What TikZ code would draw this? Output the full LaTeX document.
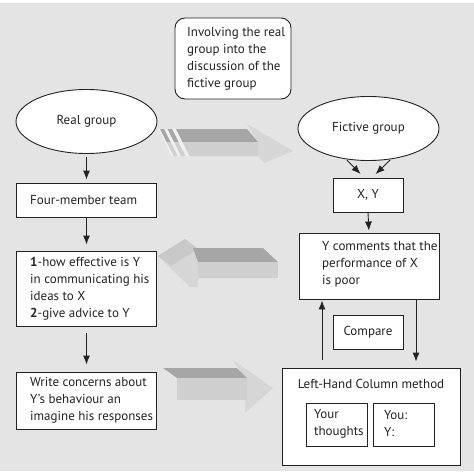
\documentclass[tikz,border=0pt]{standalone}
\usepackage{fontspec}
\setmainfont{PT Sans}
\usetikzlibrary{shapes.geometric,arrows.meta}
\definecolor{bgc}{HTML}{E4E4E4}
\definecolor{topc}{HTML}{A6A6A6}
\definecolor{frontc}{HTML}{CFCFCF}
\definecolor{headc}{HTML}{D6D6D6}
\definecolor{facetc}{HTML}{C8C8C8}
\definecolor{gapc}{HTML}{F0F0F0}
\definecolor{ink}{HTML}{222222}
\begin{document}
\begin{tikzpicture}[x=1pt,y=-1pt,
  every node/.style={font=\fontsize{13}{17}\selectfont, text=ink},
  bx/.style={draw=ink, line width=0.9pt, fill=white, inner sep=0pt},
  ell/.style={draw=ink, line width=0.9pt, fill=white, ellipse, minimum width=141pt, minimum height=64pt, inner sep=0pt},
  arr/.style={draw=ink, line width=0.9pt, -{Latex[length=9pt,width=7pt]}},
  txt/.style={align=left, inner sep=0pt, anchor=west}]
\useasboundingbox (0,0) rectangle (474,474);
\fill[white] (0,0) rectangle (474,474);
\fill[bgc] (0,3) rectangle (474,471);

% big arrow 1 (right)
\fill[gapc] (158,129) -- (176,129) -- (189.5,156) -- (171.5,156) -- cycle;
\fill[headc] (247,124) -- (293,151) -- (264,163) -- (258,156) -- (258,142) -- cycle;
\fill[topc] (176,129) -- (247,129) -- (258,142) -- (182.5,142) -- cycle;
\fill[frontc] (182.5,142) -- (258,142) -- (258,156) -- (189.5,156) -- cycle;
\fill[topc] (160,129) -- (164,129) -- (170.5,142) -- (166.5,142) -- cycle;
\fill[frontc] (166.5,142) -- (170.5,142) -- (177.5,156) -- (173.5,156) -- cycle;
\fill[topc] (167.5,129) -- (172,129) -- (178.5,142) -- (174,142) -- cycle;
\fill[frontc] (174,142) -- (178.5,142) -- (185.5,156) -- (181,156) -- cycle;

% big arrow 2 (left)
\fill[headc] (158,256) -- (185,239) -- (198,249) -- (198,287) -- (190,287) -- cycle;
\fill[facetc] (158,256) -- (185,239) -- (198,249) -- (171,266) -- cycle;
\fill[topc] (193,248) -- (263,248) -- (278,262) -- (198,262) -- cycle;
\fill[frontc] (198,262) -- (278,262) -- (278,278) -- (198,278) -- cycle;

% big arrow 3 (right)
\fill[headc] (233,360) -- (273,388) -- (245,413) -- (245,378) -- cycle;
\fill[topc] (163,368) -- (237,368) -- (247,378) -- (177,378) -- cycle;
\fill[frontc] (177,378) -- (247,378) -- (247,400) -- (177,400) -- cycle;

% boxes
\node[bx, minimum width=116pt, minimum height=81pt, rounded corners=10pt] (top) at (233,58.5) {};
\node[txt] (topt) at (187,58.5) {Involving the real\\group into the\\discussion of the\\fictive group};
\node[ell] (real) at (86.5,121.5) {Real group};
\node[ell] (fict) at (368.5,128.5) {Fictive group};
\node[bx, minimum width=140pt, minimum height=34pt] (four) at (86.5,200) {};
\node[txt] (fourt) at (30,200) {Four-member team};
\node[bx, minimum width=140pt, minimum height=75pt] (q) at (86.5,288.5) {};
\node[txt] (qt) at (30,288.5) {\textbf{1}-how effective is Y\\in communicating his\\ideas to X\\\textbf{2}-give advice to Y};
\node[bx, minimum width=140pt, minimum height=57pt] (wr) at (86.5,400.5) {};
\node[txt] (wrt) at (30,400) {Write concerns about\\Y’s behaviour an\\imagine his responses};
\node[bx, minimum width=70pt, minimum height=34pt] (xy) at (368,195) {X, Y};
\node[bx, minimum width=140pt, minimum height=66pt] (yc) at (369,266) {};
\node[txt] (yct) at (322,264.5) {Y comments that the\\performance of X\\is poor};
\node[bx, minimum width=70pt, minimum height=34pt] (cmp) at (368,332) {Compare};
\node[bx, minimum width=178pt, minimum height=97pt] (lhc) at (371,416.5) {};
\node[inner sep=0pt] (lht) at (371,384) {Left-Hand Column method};
\node[bx, minimum width=61pt, minimum height=43pt] (yt) at (336.5,424.5) {};
\node[txt] (ytt) at (314,423.5) {Your\\thoughts};
\node[bx, minimum width=61pt, minimum height=43pt] (yy) at (403.5,424.5) {};
\node[txt] (yyt) at (384,423.5) {You:\\Y:};

\coordinate (ux) at (322,0);
\coordinate (dx) at (416,0);

% connectors
\draw[arr, shorten <=3pt, shorten >=3pt] (real.south) -- (four.north);
\draw[arr, shorten >=6pt] (four.south) -- (q.north);
\draw[arr, shorten <=7pt, shorten >=7pt] (q.south) -- (wr.north);
\draw[arr, shorten <=1pt, shorten >=5pt] (fict.234) -- ([xshift=-4pt]xy.north);
\draw[arr, shorten <=1pt, shorten >=5pt] (fict.306) -- ([xshift=4pt]xy.north);
\draw[arr, shorten >=2pt] (xy.south) -- (yc.north);
\draw[arr, shorten <=8pt, shorten >=1pt] (lhc.north -| ux) -- (yc.south -| ux);
\draw[arr, shorten >=6pt] (yc.south -| dx) -- (lhc.north -| dx);
\end{tikzpicture}
\end{document}
